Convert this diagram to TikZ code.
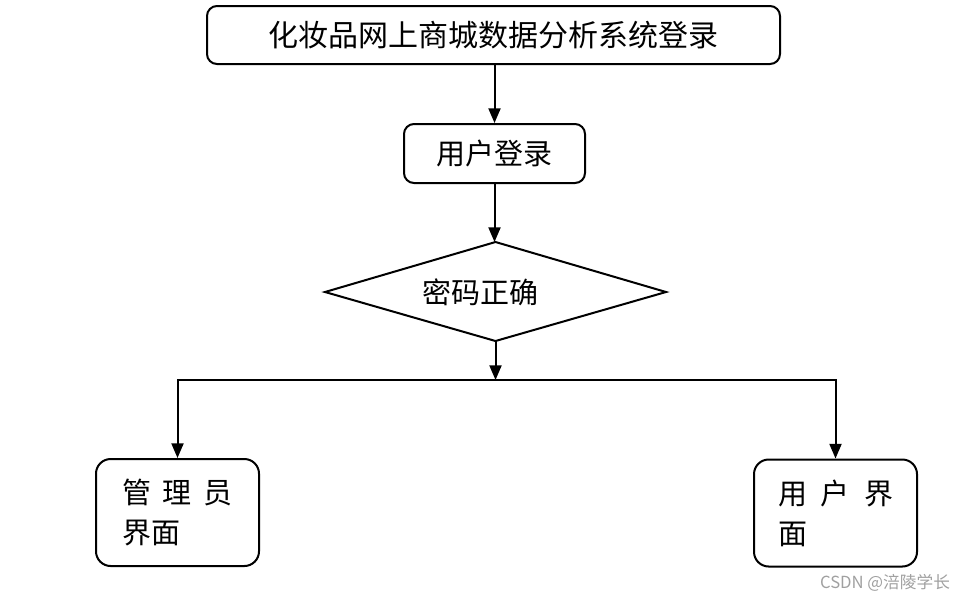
\documentclass[tikz,border=0pt]{standalone}
\usepackage{fontspec}
\newfontfamily\cjk{Noto Sans CJK SC}
\usetikzlibrary{shapes.geometric,arrows.meta}
\definecolor{wmgray}{RGB}{160,160,160}
\begin{document}
\begin{tikzpicture}[x=0.75pt,y=-0.75pt,
  box/.style={draw,line width=1.5pt,rounded corners=7.5pt,inner sep=0pt,font=\cjk},
  bigbox/.style={box,rounded corners=11pt,minimum width=122.25pt,minimum height=80.25pt,align=left,font=\cjk\fontsize{21.75pt}{30pt}\selectfont},
  arr/.style={line width=1.5pt,-{Triangle[length=11pt,width=9pt]}},
  ln/.style={line width=1.5pt}]
\useasboundingbox (0,0) rectangle (969,601);
\node[box,minimum width=429.75pt,minimum height=43.5pt,font=\cjk\fontsize{22.5pt}{28pt}\selectfont] (top) at (493.5,35) {化妆品网上商城数据分析系统登录};
\node[box,minimum width=135.75pt,minimum height=44.25pt,font=\cjk\fontsize{21.75pt}{26pt}\selectfont] (login) at (494.5,153.5) {用户登录};
\coordinate (dt) at (495.5,242);
\coordinate (db) at (495.5,341);
\coordinate (dl) at (325,292);
\coordinate (dr) at (666,292);
\draw[ln,line join=miter] (dt) -- (dr) -- (db) -- (dl) -- cycle;
\node[font=\cjk\fontsize{21.75pt}{26pt}\selectfont,inner sep=0pt] (pwd) at (480,292) {密码正确};
\coordinate (junc) at (495.5,380);
\node[bigbox] (adm) at (177.5,512.5) {管\hspace{9pt}理\hspace{9pt}员\\界面};
\node[bigbox] (usr) at (835.5,513) {用\hspace{10.5pt}户\hspace{10.5pt}界\\面};
\draw[arr] (top.south -| login.north) -- (login.north);
\draw[arr] (login.south) -- (login.south |- dt);
\draw[arr] (db) -- (junc);
\draw[arr] (junc) -| (adm.north);
\draw[arr] (junc) -| (usr.north);
\node[font=\cjk\fontsize{12.5pt}{14pt}\selectfont,text=wmgray,inner sep=0pt] (wm) at (885,583) {CSDN @涪陵学长};
\end{tikzpicture}
\end{document}
